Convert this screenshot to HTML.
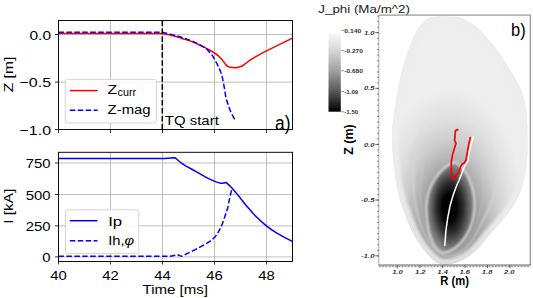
<!DOCTYPE html>
<html><head><meta charset="utf-8">
<style>
html,body{margin:0;padding:0;background:#fff;}
body{width:533px;height:298px;overflow:hidden;}
svg{display:block;font-family:"Liberation Sans",sans-serif;}
</style></head>
<body>
<svg width="533" height="298" viewBox="0 0 533 298">
<defs>
  <radialGradient id="blobg" cx="447" cy="200" r="110" gradientUnits="userSpaceOnUse" gradientTransform="translate(447 200) scale(1 1.6) translate(-447 -200)">
    <stop offset="0" stop-color="#9a9a9a"/>
    <stop offset="0.45" stop-color="#c8c8c8"/>
    <stop offset="0.75" stop-color="#e2e2e2"/>
    <stop offset="1" stop-color="#efefef"/>
  </radialGradient>
  <radialGradient id="coreg" cx="0.5" cy="0.5" r="0.5" fx="0.47" fy="0.5">
    <stop offset="0" stop-color="#000"/>
    <stop offset="0.3" stop-color="#030303"/>
    <stop offset="0.58" stop-color="#323232"/>
    <stop offset="0.82" stop-color="#6c6c6c"/>
    <stop offset="1" stop-color="#8e8e8e"/>
  </radialGradient>
  <radialGradient id="halo" gradientUnits="userSpaceOnUse" cx="0" cy="0" r="1" gradientTransform="matrix(76 0 0 136 450 224)">
    <stop offset="0" stop-color="#858585"/>
    <stop offset="0.3" stop-color="#959595"/>
    <stop offset="0.4" stop-color="#a6a6a6"/>
    <stop offset="0.5" stop-color="#b9b9b9"/>
    <stop offset="0.62" stop-color="#cecece"/>
    <stop offset="0.8" stop-color="#e2e2e2"/>
    <stop offset="1" stop-color="#eeeeee"/>
  </radialGradient>
  <linearGradient id="lowg" gradientUnits="userSpaceOnUse" x1="0" y1="115" x2="0" y2="185">
    <stop offset="0" stop-color="#000"/>
    <stop offset="1" stop-color="#fff"/>
  </linearGradient>
  <mask id="lowmask" maskUnits="userSpaceOnUse" x="370" y="0" width="170" height="298"><rect x="370" y="0" width="170" height="298" fill="url(#lowg)"/></mask>
  <filter id="blur2" x="-20%" y="-20%" width="140%" height="140%"><feGaussianBlur stdDeviation="1.5"/></filter>
  <filter id="blur1" x="-20%" y="-20%" width="140%" height="140%"><feGaussianBlur stdDeviation="0.8"/></filter>
  <linearGradient id="cbar" x1="0" y1="0" x2="0" y2="1">
    <stop offset="0" stop-color="#fafafa"/>
    <stop offset="0.25" stop-color="#d2d2d2"/>
    <stop offset="0.5" stop-color="#9c9c9c"/>
    <stop offset="0.75" stop-color="#555555"/>
    <stop offset="1" stop-color="#000000"/>
  </linearGradient>
  <clipPath id="clipTop"><rect x="58.5" y="20.5" width="234" height="109"/></clipPath>
  <clipPath id="clipBot"><rect x="58.5" y="152.3" width="234" height="109.2"/></clipPath>
</defs>

<!-- ============ TOP PANEL ============ -->
<g stroke="#b0b0b0" stroke-width="0.8" fill="none">
  <line x1="110.5" y1="20.5" x2="110.5" y2="129.5"/>
  <line x1="162.5" y1="20.5" x2="162.5" y2="129.5"/>
  <line x1="214.5" y1="20.5" x2="214.5" y2="129.5"/>
  <line x1="266.5" y1="20.5" x2="266.5" y2="129.5"/>
  <line x1="58.5" y1="34.5" x2="292.5" y2="34.5"/>
  <line x1="58.5" y1="82.1" x2="292.5" y2="82.1"/>
</g>
<g clip-path="url(#clipTop)" fill="none" stroke-linejoin="round">
  <path stroke="#ff0000" stroke-width="1.5" d="M58.5,33.6 C75.8,33.6 144.8,33.6 162.0,33.6 L162.0,33.6 C163.0,33.8 165.5,34.1 168.0,34.6 C170.5,35.1 174.0,36.0 176.8,36.8 C179.6,37.6 182.8,38.7 185.0,39.4 C187.2,40.1 188.1,40.2 190.0,40.9 C191.9,41.6 194.3,42.6 196.5,43.6 C198.7,44.6 201.2,45.7 203.4,46.8 C205.6,47.9 207.6,48.9 209.5,50.0 C211.4,51.1 213.5,52.5 215.1,53.5 C216.7,54.5 217.7,55.3 218.8,56.3 C219.9,57.3 220.9,58.4 221.8,59.4 C222.7,60.4 223.3,61.3 224.0,62.2 C224.7,63.1 225.3,64.2 226.0,64.9 C226.7,65.6 227.3,66.1 228.0,66.5 C228.7,66.9 229.0,67.1 230.2,67.3 C231.4,67.5 233.8,67.7 235.2,67.7 C236.6,67.7 237.4,67.5 238.5,67.2 C239.6,66.9 240.8,66.7 242.0,66.0 C243.2,65.3 244.7,64.2 246.0,63.2 C247.3,62.2 248.4,61.3 250.0,60.2 C251.6,59.1 252.1,58.6 255.4,56.8 C258.7,55.0 263.9,52.3 270.0,49.2 C276.1,46.1 288.3,40.2 292.0,38.4"/>
  <path stroke="#0000ff" stroke-width="1.5" stroke-dasharray="5.55 2.4" d="M58.5,32.2 C75.8,32.2 144.8,32.2 162.0,32.2 L162.0,32.2 C164.5,32.8 172.1,34.6 176.8,35.9 C181.5,37.2 186.7,38.9 190.0,40.1 C193.3,41.3 194.3,42.1 196.5,43.2 C198.7,44.3 201.7,45.8 203.4,46.8 C205.2,47.8 205.9,48.4 207.0,49.4 C208.1,50.4 209.1,51.6 210.1,52.7 C211.1,53.8 212.0,55.0 212.8,56.2 C213.6,57.5 214.3,58.9 215.1,60.2 C215.8,61.6 216.6,62.9 217.3,64.3 C218.0,65.7 218.7,67.3 219.3,68.6 C219.9,69.9 220.3,70.9 220.7,72.0 C221.1,73.1 221.5,73.9 221.8,75.0 C222.1,76.1 222.3,77.3 222.6,78.5 C222.8,79.7 223.0,80.2 223.3,82.1 C223.7,84.0 224.2,87.3 224.7,90.0 C225.2,92.7 225.5,95.8 226.1,98.2 C226.7,100.6 227.4,102.5 228.1,104.5 C228.8,106.5 229.3,108.4 230.1,110.2 C230.8,112.0 231.8,113.8 232.6,115.5 C233.4,117.2 234.8,119.5 235.2,120.3"/>
  <line x1="162.3" y1="20.5" x2="162.3" y2="129.5" stroke="#000" stroke-width="1.5" stroke-dasharray="5.55 2.4"/>
</g>
<!-- legend top -->
<rect x="65.3" y="79.4" width="91.2" height="43.6" rx="2" ry="2" fill="#fff" fill-opacity="0.92" stroke="#cccccc" stroke-width="0.8"/>
<line x1="69.8" y1="90.6" x2="97.7" y2="90.6" stroke="#ff0000" stroke-width="1.5"/>
<line x1="69.8" y1="110.2" x2="97.7" y2="110.2" stroke="#0000ff" stroke-width="1.5" stroke-dasharray="5.55 2.4"/>
<text x="107.6" y="94.3" font-size="13.3" textLength="9.6" lengthAdjust="spacingAndGlyphs">Z</text>
<text x="117.6" y="96.4" font-size="10.5" textLength="18.6" lengthAdjust="spacingAndGlyphs">curr</text>
<text x="107.6" y="114.3" font-size="13.3" textLength="43" lengthAdjust="spacingAndGlyphs">Z-mag</text>
<!-- TQ start / a) -->
<text x="164.8" y="125" font-size="13.3" textLength="54" lengthAdjust="spacingAndGlyphs">TQ start</text>
<text x="275" y="129.6" font-size="19.5" textLength="15.5" lengthAdjust="spacingAndGlyphs">a)</text>
<!-- spines -->
<rect x="58.5" y="20.5" width="234" height="109" fill="none" stroke="#000" stroke-width="0.95"/>
<!-- ticks -->
<g stroke="#000" stroke-width="0.8">
  <line x1="55" y1="34.5" x2="58.5" y2="34.5"/>
  <line x1="55" y1="82.1" x2="58.5" y2="82.1"/>
  <line x1="55" y1="129.5" x2="58.5" y2="129.5"/>
  <line x1="58.5" y1="129.5" x2="58.5" y2="133"/>
  <line x1="110.5" y1="129.5" x2="110.5" y2="133"/>
  <line x1="162.5" y1="129.5" x2="162.5" y2="133"/>
  <line x1="214.5" y1="129.5" x2="214.5" y2="133"/>
  <line x1="266.5" y1="129.5" x2="266.5" y2="133"/>
</g>
<g font-size="13.3" text-anchor="end">
  <text x="51" y="39.5" textLength="21.5" lengthAdjust="spacingAndGlyphs">0.0</text>
  <text x="51" y="87.3" textLength="31.5" lengthAdjust="spacingAndGlyphs">−0.5</text>
  <text x="51" y="134.7" textLength="31.5" lengthAdjust="spacingAndGlyphs">−1.0</text>
</g>
<text transform="translate(12.6 74.5) rotate(-90)" font-size="13.7" text-anchor="middle" textLength="35.5" lengthAdjust="spacingAndGlyphs">Z [m]</text>

<!-- ============ BOTTOM PANEL ============ -->
<g stroke="#b0b0b0" stroke-width="0.8" fill="none">
  <line x1="110.5" y1="152" x2="110.5" y2="261"/>
  <line x1="162.5" y1="152" x2="162.5" y2="261"/>
  <line x1="214.5" y1="152" x2="214.5" y2="261"/>
  <line x1="266.5" y1="152" x2="266.5" y2="261"/>
  <line x1="58.5" y1="163" x2="292.5" y2="163"/>
  <line x1="58.5" y1="194.5" x2="292.5" y2="194.5"/>
  <line x1="58.5" y1="225.9" x2="292.5" y2="225.9"/>
  <line x1="58.5" y1="256.9" x2="292.5" y2="256.9"/>
</g>
<g clip-path="url(#clipBot)" fill="none" stroke-linejoin="round">
  <path stroke="#0000ff" stroke-width="1.5" d="M58.5,158.6 C76.2,158.6 147.2,158.6 165.0,158.6 L165.0,158.6 C166.7,158.4 173.4,157.8 175.1,157.7 L175.1,157.7 C175.8,158.3 177.9,160.3 179.5,161.5 C181.1,162.7 181.8,163.5 184.4,165.1 C187.0,166.7 191.6,169.1 195.2,171.1 C198.8,173.1 202.4,175.4 205.7,177.1 C209.0,178.8 212.3,180.4 214.8,181.4 C217.3,182.4 218.9,183.0 220.8,183.2 C222.7,183.4 225.2,182.5 226.1,182.4 L226.1,182.4 C227.0,183.3 229.5,185.4 231.5,187.6 C233.5,189.8 235.5,192.2 238.1,195.3 C240.7,198.4 243.9,202.8 246.8,206.2 C249.7,209.6 252.2,212.7 255.5,216.0 C258.8,219.3 262.8,222.9 266.4,225.8 C270.0,228.7 273.0,230.8 277.3,233.4 C281.6,236.0 289.6,240.0 292.0,241.3"/>
  <path stroke="#0000ff" stroke-width="1.5" stroke-dasharray="5.55 2.4" d="M58.5,256.3 C76.8,256.3 149.8,256.3 168.0,256.3 L168.0,256.3 C168.7,256.2 170.8,256.2 172.0,256.0 C173.2,255.8 174.1,255.4 175.0,255.2 C175.9,255.0 176.8,254.6 177.5,254.7 C178.2,254.8 178.8,255.3 179.5,255.6 C180.2,255.9 181.4,256.2 181.8,256.3 L181.8,256.2 C182.9,255.7 185.4,254.4 188.1,253.1 C190.8,251.8 194.7,249.9 198.0,248.2 C201.3,246.4 205.0,244.5 207.8,242.6 C210.6,240.7 213.0,239.0 214.9,237.0 C216.8,235.0 217.9,232.6 219.1,230.6 C220.3,228.6 220.9,227.4 221.9,225.0 C222.9,222.6 224.1,218.8 225.0,216.0 C225.9,213.2 226.9,211.0 227.6,208.3 C228.3,205.6 228.8,202.3 229.4,199.6 C230.0,196.9 230.6,193.9 231.1,192.0 C231.6,190.1 232.3,188.9 232.6,188.3"/>
</g>
<!-- legend bottom -->
<rect x="65.5" y="209.8" width="73.3" height="43.6" rx="2" ry="2" fill="#fff" fill-opacity="0.92" stroke="#cccccc" stroke-width="0.8"/>
<line x1="69.8" y1="220.7" x2="97.5" y2="220.7" stroke="#0000ff" stroke-width="1.5"/>
<line x1="69.8" y1="240.8" x2="97.5" y2="240.8" stroke="#0000ff" stroke-width="1.5" stroke-dasharray="5.55 2.4"/>
<text x="108.2" y="225.7" font-size="13.3" textLength="14" lengthAdjust="spacingAndGlyphs">Ip</text>
<text x="108.2" y="245.1" font-size="13.3" textLength="26" lengthAdjust="spacingAndGlyphs">Ih,<tspan font-style="italic">φ</tspan></text>
<rect x="58.5" y="152.3" width="234" height="109.2" fill="none" stroke="#000" stroke-width="0.95"/>
<g stroke="#000" stroke-width="0.8">
  <line x1="55" y1="163" x2="58.5" y2="163"/>
  <line x1="55" y1="194.5" x2="58.5" y2="194.5"/>
  <line x1="55" y1="225.9" x2="58.5" y2="225.9"/>
  <line x1="55" y1="256.9" x2="58.5" y2="256.9"/>
  <line x1="58.5" y1="261" x2="58.5" y2="264.5"/>
  <line x1="110.5" y1="261" x2="110.5" y2="264.5"/>
  <line x1="162.5" y1="261" x2="162.5" y2="264.5"/>
  <line x1="214.5" y1="261" x2="214.5" y2="264.5"/>
  <line x1="266.5" y1="261" x2="266.5" y2="264.5"/>
</g>
<g font-size="13.3" text-anchor="end">
  <text x="50.5" y="168.2" textLength="24.8" lengthAdjust="spacingAndGlyphs">750</text>
  <text x="50.5" y="199.7" textLength="24.8" lengthAdjust="spacingAndGlyphs">500</text>
  <text x="50.5" y="231.1" textLength="24.8" lengthAdjust="spacingAndGlyphs">250</text>
  <text x="50.5" y="262.1" textLength="8.3" lengthAdjust="spacingAndGlyphs">0</text>
</g>
<g font-size="13.3" text-anchor="middle">
  <text x="58.5" y="280.2" textLength="16.5" lengthAdjust="spacingAndGlyphs">40</text>
  <text x="110.5" y="280.2" textLength="16.5" lengthAdjust="spacingAndGlyphs">42</text>
  <text x="162.5" y="280.2" textLength="16.5" lengthAdjust="spacingAndGlyphs">44</text>
  <text x="214.5" y="280.2" textLength="16.5" lengthAdjust="spacingAndGlyphs">46</text>
  <text x="266.5" y="280.2" textLength="16.5" lengthAdjust="spacingAndGlyphs">48</text>
  <text x="175.3" y="293.9" textLength="65.5" lengthAdjust="spacingAndGlyphs">Time [ms]</text>
</g>
<text transform="translate(12.6 206.3) rotate(-90)" font-size="13.7" text-anchor="middle" textLength="35" lengthAdjust="spacingAndGlyphs">I [kA]</text>

<!-- ============ RIGHT PANEL ============ -->
<text x="318.3" y="13" font-size="11" textLength="91.6" lengthAdjust="spacingAndGlyphs" fill="#222">J_phi (Ma/m^2)</text>
<rect x="328.5" y="32.5" width="12.3" height="79.2" fill="url(#cbar)"/>
<g font-size="6" fill="#333" font-weight="bold">
  <text x="344.3" y="32.7" textLength="17" lengthAdjust="spacingAndGlyphs">0.140</text>
  <text x="344.3" y="52.7" textLength="18.5" lengthAdjust="spacingAndGlyphs">-0.270</text>
  <text x="344.3" y="72.9" textLength="18.5" lengthAdjust="spacingAndGlyphs">-0.680</text>
  <text x="344.3" y="93.8" textLength="14" lengthAdjust="spacingAndGlyphs">-1.09</text>
  <text x="344.3" y="114" textLength="14" lengthAdjust="spacingAndGlyphs">-1.50</text>
</g>
<g stroke="#555" stroke-width="0.6">
  <line x1="341" y1="30.5" x2="344" y2="30.5"/>
  <line x1="341" y1="50.5" x2="344" y2="50.5"/>
  <line x1="341" y1="70.7" x2="344" y2="70.7"/>
  <line x1="341" y1="91.5" x2="344" y2="91.5"/>
  <line x1="341" y1="111.8" x2="344" y2="111.8"/>
</g>
<!-- blob -->
<clipPath id="blobclip"><path d="M431.3,17.3 C434.9,16.4 440.3,16.6 445.0,16.6 C449.7,16.6 455.7,16.6 459.5,17.4 C463.3,18.2 465.4,20.1 468.0,21.5 C470.6,22.9 472.7,24.2 475.0,26.0 C477.3,27.8 479.3,29.3 482.0,32.1 C484.7,34.9 488.1,38.8 491.1,42.6 C494.1,46.4 497.1,50.4 500.1,54.7 C503.1,59.0 506.2,63.5 509.2,68.3 C512.2,73.1 515.5,78.2 518.0,83.5 C520.5,88.8 523.0,93.9 524.5,100.0 C526.0,106.1 526.5,113.3 527.0,120.0 C527.5,126.7 527.6,133.3 527.6,140.0 C527.6,146.7 527.6,153.3 527.0,160.0 C526.4,166.7 525.5,173.8 524.0,180.0 C522.5,186.2 520.5,192.0 518.2,197.0 C515.9,202.0 513.4,205.6 510.2,210.2 C507.0,214.8 502.0,220.6 498.8,224.4 C495.6,228.2 493.4,230.1 490.8,233.0 C488.2,235.9 486.0,238.8 483.5,241.7 C481.0,244.6 478.7,247.8 475.6,250.6 C472.5,253.4 468.5,256.5 464.9,258.6 C461.3,260.7 457.3,262.1 454.2,263.1 C451.1,264.1 448.6,264.5 446.0,264.5 C443.4,264.5 440.8,264.2 438.3,263.1 C435.8,262.0 433.7,260.1 431.2,257.7 C428.7,255.3 425.7,252.1 423.2,248.8 C420.7,245.6 418.2,242.0 416.0,238.2 C413.8,234.3 411.6,229.7 409.8,225.7 C408.0,221.7 406.8,218.7 405.2,214.4 C403.6,210.2 401.5,204.9 400.1,200.2 C398.7,195.5 397.6,191.1 396.7,186.1 C395.8,181.1 395.2,176.0 394.5,170.0 C393.8,164.0 392.7,156.9 392.3,150.3 C391.9,143.7 391.8,136.6 392.1,130.2 C392.4,123.8 393.4,118.5 394.3,112.0 C395.2,105.5 396.5,97.3 397.5,91.3 C398.5,85.3 399.4,80.8 400.5,76.0 C401.6,71.2 402.8,66.6 404.1,62.3 C405.4,58.0 406.9,54.0 408.2,50.3 C409.5,46.6 410.7,43.6 412.2,40.2 C413.7,36.8 415.3,33.1 417.2,30.1 C419.1,27.1 420.9,24.2 423.3,22.1 C425.7,20.0 427.7,18.2 431.3,17.3 Z"/></clipPath>
<path d="M431.3,17.3 C434.9,16.4 440.3,16.6 445.0,16.6 C449.7,16.6 455.7,16.6 459.5,17.4 C463.3,18.2 465.4,20.1 468.0,21.5 C470.6,22.9 472.7,24.2 475.0,26.0 C477.3,27.8 479.3,29.3 482.0,32.1 C484.7,34.9 488.1,38.8 491.1,42.6 C494.1,46.4 497.1,50.4 500.1,54.7 C503.1,59.0 506.2,63.5 509.2,68.3 C512.2,73.1 515.5,78.2 518.0,83.5 C520.5,88.8 523.0,93.9 524.5,100.0 C526.0,106.1 526.5,113.3 527.0,120.0 C527.5,126.7 527.6,133.3 527.6,140.0 C527.6,146.7 527.6,153.3 527.0,160.0 C526.4,166.7 525.5,173.8 524.0,180.0 C522.5,186.2 520.5,192.0 518.2,197.0 C515.9,202.0 513.4,205.6 510.2,210.2 C507.0,214.8 502.0,220.6 498.8,224.4 C495.6,228.2 493.4,230.1 490.8,233.0 C488.2,235.9 486.0,238.8 483.5,241.7 C481.0,244.6 478.7,247.8 475.6,250.6 C472.5,253.4 468.5,256.5 464.9,258.6 C461.3,260.7 457.3,262.1 454.2,263.1 C451.1,264.1 448.6,264.5 446.0,264.5 C443.4,264.5 440.8,264.2 438.3,263.1 C435.8,262.0 433.7,260.1 431.2,257.7 C428.7,255.3 425.7,252.1 423.2,248.8 C420.7,245.6 418.2,242.0 416.0,238.2 C413.8,234.3 411.6,229.7 409.8,225.7 C408.0,221.7 406.8,218.7 405.2,214.4 C403.6,210.2 401.5,204.9 400.1,200.2 C398.7,195.5 397.6,191.1 396.7,186.1 C395.8,181.1 395.2,176.0 394.5,170.0 C393.8,164.0 392.7,156.9 392.3,150.3 C391.9,143.7 391.8,136.6 392.1,130.2 C392.4,123.8 393.4,118.5 394.3,112.0 C395.2,105.5 396.5,97.3 397.5,91.3 C398.5,85.3 399.4,80.8 400.5,76.0 C401.6,71.2 402.8,66.6 404.1,62.3 C405.4,58.0 406.9,54.0 408.2,50.3 C409.5,46.6 410.7,43.6 412.2,40.2 C413.7,36.8 415.3,33.1 417.2,30.1 C419.1,27.1 420.9,24.2 423.3,22.1 C425.7,20.0 427.7,18.2 431.3,17.3 Z" fill="url(#halo)"/>
<g clip-path="url(#blobclip)">
  <path d="M431.3,17.3 C434.9,16.4 440.3,16.6 445.0,16.6 C449.7,16.6 455.7,16.6 459.5,17.4 C463.3,18.2 465.4,20.1 468.0,21.5 C470.6,22.9 472.7,24.2 475.0,26.0 C477.3,27.8 479.3,29.3 482.0,32.1 C484.7,34.9 488.1,38.8 491.1,42.6 C494.1,46.4 497.1,50.4 500.1,54.7 C503.1,59.0 506.2,63.5 509.2,68.3 C512.2,73.1 515.5,78.2 518.0,83.5 C520.5,88.8 523.0,93.9 524.5,100.0 C526.0,106.1 526.5,113.3 527.0,120.0 C527.5,126.7 527.6,133.3 527.6,140.0 C527.6,146.7 527.6,153.3 527.0,160.0 C526.4,166.7 525.5,173.8 524.0,180.0 C522.5,186.2 520.5,192.0 518.2,197.0 C515.9,202.0 513.4,205.6 510.2,210.2 C507.0,214.8 502.0,220.6 498.8,224.4 C495.6,228.2 493.4,230.1 490.8,233.0 C488.2,235.9 486.0,238.8 483.5,241.7 C481.0,244.6 478.7,247.8 475.6,250.6 C472.5,253.4 468.5,256.5 464.9,258.6 C461.3,260.7 457.3,262.1 454.2,263.1 C451.1,264.1 448.6,264.5 446.0,264.5 C443.4,264.5 440.8,264.2 438.3,263.1 C435.8,262.0 433.7,260.1 431.2,257.7 C428.7,255.3 425.7,252.1 423.2,248.8 C420.7,245.6 418.2,242.0 416.0,238.2 C413.8,234.3 411.6,229.7 409.8,225.7 C408.0,221.7 406.8,218.7 405.2,214.4 C403.6,210.2 401.5,204.9 400.1,200.2 C398.7,195.5 397.6,191.1 396.7,186.1 C395.8,181.1 395.2,176.0 394.5,170.0 C393.8,164.0 392.7,156.9 392.3,150.3 C391.9,143.7 391.8,136.6 392.1,130.2 C392.4,123.8 393.4,118.5 394.3,112.0 C395.2,105.5 396.5,97.3 397.5,91.3 C398.5,85.3 399.4,80.8 400.5,76.0 C401.6,71.2 402.8,66.6 404.1,62.3 C405.4,58.0 406.9,54.0 408.2,50.3 C409.5,46.6 410.7,43.6 412.2,40.2 C413.7,36.8 415.3,33.1 417.2,30.1 C419.1,27.1 420.9,24.2 423.3,22.1 C425.7,20.0 427.7,18.2 431.3,17.3 Z" fill="none" stroke="#ededed" stroke-width="12" opacity="0.85" filter="url(#blur2)"/>
  <path d="M490.6,205.0 C489.7,207.4 488.6,209.5 487.6,211.6 C486.7,213.7 485.7,215.7 484.7,217.6 C483.7,219.6 482.6,221.3 481.6,223.2 C480.6,225.1 479.7,227.0 478.6,229.0 C477.6,231.0 476.5,233.0 475.2,235.1 C474.0,237.2 472.8,239.6 471.2,241.7 C469.6,243.9 467.8,246.0 465.6,248.0 C463.5,249.9 461.1,251.9 458.5,253.3 C455.9,254.6 452.9,255.7 450.0,255.9 C447.1,256.1 443.9,255.6 441.3,254.4 C438.6,253.2 436.2,250.8 434.1,248.7 C432.0,246.5 430.4,244.0 428.9,241.6 C427.4,239.3 426.2,236.9 425.1,234.7 C424.0,232.5 423.1,230.4 422.3,228.3 C421.4,226.2 420.8,224.2 420.1,222.2 C419.5,220.3 419.0,218.4 418.5,216.5 C418.0,214.6 417.5,212.7 417.0,210.8 C416.6,208.9 416.2,207.0 415.8,205.0 C415.4,203.0 415.1,201.0 414.7,198.8 C414.4,196.6 414.0,194.3 413.8,191.8 C413.6,189.4 413.6,186.9 413.5,183.9 C413.4,181.0 413.3,177.9 413.3,174.2 C413.4,170.6 413.4,166.6 414.0,162.0 C414.5,157.5 415.2,152.8 416.5,147.0 C417.8,141.2 419.1,134.4 421.8,127.5 C424.5,120.6 427.8,110.5 432.5,105.9 C437.2,101.3 444.2,99.6 450.0,99.8 C455.8,100.0 462.2,103.4 467.3,107.1 C472.3,110.8 476.5,117.2 480.1,122.2 C483.8,127.2 486.9,132.1 489.2,137.2 C491.4,142.3 492.8,147.8 493.8,152.8 C494.8,157.8 495.1,162.6 495.4,166.9 C495.7,171.2 495.7,175.0 495.7,178.6 C495.6,182.2 495.4,185.5 494.9,188.6 C494.5,191.8 493.8,194.7 493.1,197.4 C492.4,200.1 491.5,202.6 490.6,205.0 Z" fill="none" stroke="#dadada" stroke-width="1.6" opacity="0.8" filter="url(#blur1)" mask="url(#lowmask)"/>
  <path d="M481.9,205.0 C481.5,206.9 480.9,208.6 480.4,210.4 C479.9,212.1 479.4,213.8 478.9,215.5 C478.3,217.2 477.7,218.9 477.1,220.6 C476.4,222.4 475.8,224.2 475.1,226.1 C474.4,228.0 473.6,229.9 472.6,232.0 C471.7,234.0 470.7,236.3 469.3,238.5 C468.0,240.6 466.4,243.0 464.5,244.9 C462.6,246.9 460.4,249.0 458.0,250.4 C455.6,251.7 452.7,252.7 450.0,252.8 C447.3,252.9 444.3,252.2 441.9,250.9 C439.5,249.6 437.2,247.3 435.3,245.3 C433.5,243.2 432.0,240.7 430.7,238.4 C429.4,236.2 428.4,233.9 427.5,231.8 C426.6,229.7 425.9,227.7 425.3,225.7 C424.7,223.8 424.2,221.9 423.8,220.1 C423.3,218.4 423.0,216.7 422.6,215.0 C422.3,213.3 422.0,211.6 421.8,210.0 C421.5,208.3 421.3,206.7 421.1,205.0 C421.0,203.3 420.8,201.6 420.7,199.8 C420.6,198.0 420.5,196.2 420.4,194.2 C420.4,192.3 420.5,190.3 420.6,188.0 C420.7,185.8 420.8,183.4 421.1,180.7 C421.3,178.0 421.6,175.1 422.2,171.9 C422.9,168.7 423.6,165.3 424.8,161.4 C426.0,157.5 427.3,153.0 429.5,148.6 C431.6,144.3 434.3,138.3 437.7,135.4 C441.2,132.5 445.9,131.3 450.0,131.3 C454.1,131.4 458.6,133.6 462.2,136.0 C465.7,138.5 468.8,142.6 471.4,146.1 C474.1,149.5 476.2,153.1 477.9,156.7 C479.5,160.3 480.6,164.1 481.5,167.5 C482.3,170.9 482.7,174.2 483.1,177.2 C483.5,180.2 483.7,182.9 483.8,185.5 C483.9,188.1 483.9,190.4 483.7,192.7 C483.6,195.0 483.4,197.1 483.1,199.2 C482.7,201.2 482.3,203.1 481.9,205.0 Z" fill="none" stroke="#cfcfcf" stroke-width="1.2" opacity="0.55" filter="url(#blur1)" mask="url(#lowmask)"/>
  <path d="M455,162.5 C465,167 475,186 474.5,206 C474,230 460,250 443,253 C431,249 426,228 426.5,206 C427,186 441,166.5 455,162.5 Z" fill="url(#coreg)"/>
  <path d="M455,162.5 C465,167 475,186 474.5,206 C474,230 460,250 443,253 C431,249 426,228 426.5,206 C427,186 441,166.5 455,162.5 Z" fill="none" stroke="#e2e2e2" stroke-width="1.9" opacity="0.95" filter="url(#blur1)"/>
</g>
<!-- red contour -->
<polyline fill="none" stroke="#ff0000" stroke-width="1.7" stroke-linejoin="round" stroke-linecap="round" points="457.8,129.6 455.4,130.6 455,136.2 454.5,140.3 456,143.2 454.4,148.5 452.6,154.4 451.3,162 451.2,170.3 451.7,177.3 452.9,179 455.3,177.3 458.6,172.6 460.5,166.8 461.8,164.5 464.1,163 465.9,160.3 467,154.5 468.6,145 470.3,137.6"/>
<polyline fill="none" stroke="#ffffff" stroke-width="1.5" stroke-linejoin="round" stroke-linecap="round" points="473.3,136.5 470.6,146 468.9,154 467.8,161.3 464.4,166.6 461.8,173.6 459,180.3 456.9,185 453.6,193.8 450.3,204.7 447.7,217.8 445.9,230.9 444.8,245.4"/>
<!-- frame -->
<path d="M378.8,15 V265" stroke="#aaaaaa" stroke-width="1" fill="none"/>
<path d="M378.8,15.1 H530.3 V265" stroke="#9a9a9a" stroke-width="1.3" fill="none"/>
<path d="M378.3,265 H530.8" stroke="#666" stroke-width="1" fill="none"/>
<path d="M379,266.3 H530" stroke="#777" stroke-width="1.8" stroke-dasharray="0.7 0.75" fill="none"/>
<path d="M377,16.1 H378.8 M377,21.6 H378.8 M377,27.2 H378.8 M377,32.8 H378.8 M377,38.4 H378.8 M377,44.0 H378.8 M377,49.5 H378.8 M377,55.1 H378.8 M377,60.7 H378.8 M377,66.3 H378.8 M377,71.9 H378.8 M377,77.4 H378.8 M377,83.0 H378.8 M377,88.6 H378.8 M377,94.2 H378.8 M377,99.8 H378.8 M377,105.3 H378.8 M377,110.9 H378.8 M377,116.5 H378.8 M377,122.1 H378.8 M377,127.7 H378.8 M377,133.2 H378.8 M377,138.8 H378.8 M377,144.4 H378.8 M377,150.0 H378.8 M377,155.6 H378.8 M377,161.1 H378.8 M377,166.7 H378.8 M377,172.3 H378.8 M377,177.9 H378.8 M377,183.5 H378.8 M377,189.0 H378.8 M377,194.6 H378.8 M377,200.2 H378.8 M377,205.8 H378.8 M377,211.4 H378.8 M377,216.9 H378.8 M377,222.5 H378.8 M377,228.1 H378.8 M377,233.7 H378.8 M377,239.3 H378.8 M377,244.8 H378.8 M377,250.4 H378.8 M377,256.0 H378.8" stroke="#666" stroke-width="0.8" fill="none"/>
<path d="M375.3,32.6 H378.8 M375.3,88.3 H378.8 M375.3,144.4 H378.8 M375.3,200.0 H378.8 M375.3,255.8 H378.8 M397.4,265 V268 M420.0,265 V268 M442.6,265 V268 M465.1,265 V268 M487.5,265 V268 M509.8,265 V268" stroke="#444" stroke-width="0.8" fill="none"/>
<text x="511" y="36.3" font-size="18" textLength="14.7" lengthAdjust="spacingAndGlyphs">b)</text>
<g font-size="6" font-style="italic" font-weight="bold" fill="#333" text-anchor="end">
  <text x="374.5" y="34.5" textLength="10.5" lengthAdjust="spacingAndGlyphs">1.0</text>
  <text x="374.5" y="90.3" textLength="10.5" lengthAdjust="spacingAndGlyphs">0.5</text>
  <text x="374.5" y="146.5" textLength="10.5" lengthAdjust="spacingAndGlyphs">0.0</text>
  <text x="374.5" y="201.5" textLength="13.5" lengthAdjust="spacingAndGlyphs">-0.5</text>
  <text x="374.5" y="257.5" textLength="13.5" lengthAdjust="spacingAndGlyphs">-1.0</text>
</g>
<g font-size="6" font-style="italic" font-weight="bold" fill="#333" text-anchor="middle">
  <text x="397.4" y="274.2" textLength="10.5" lengthAdjust="spacingAndGlyphs">1.0</text>
  <text x="420.2" y="274.2" textLength="10.5" lengthAdjust="spacingAndGlyphs">1.2</text>
  <text x="442.6" y="274.2" textLength="10.5" lengthAdjust="spacingAndGlyphs">1.4</text>
  <text x="464.7" y="274.2" textLength="10.5" lengthAdjust="spacingAndGlyphs">1.6</text>
  <text x="487.1" y="274.2" textLength="10.5" lengthAdjust="spacingAndGlyphs">1.8</text>
  <text x="509.3" y="274.2" textLength="10.5" lengthAdjust="spacingAndGlyphs">2.0</text>
</g>
<text x="440.3" y="284.6" font-size="12" font-weight="bold" textLength="28.7" lengthAdjust="spacingAndGlyphs">R (m)</text>
<text transform="translate(352.6 139.5) rotate(-90)" font-size="12.5" font-weight="bold" text-anchor="middle">Z (m)</text>
</svg>
</body></html>
